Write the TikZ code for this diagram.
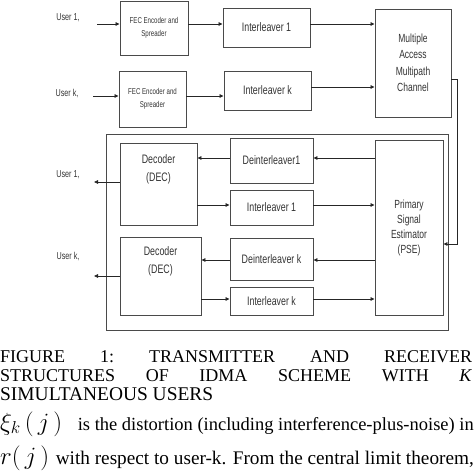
\documentclass[tikz,border=0pt]{standalone}
\usepackage{fontspec}
\usepackage{graphicx}
\setmainfont{Liberation Serif}
\newfontfamily\diag[FakeStretch=0.72]{Liberation Sans}
\usetikzlibrary{arrows.meta}
\definecolor{boxline}{HTML}{4A4A4A}
\definecolor{txt}{HTML}{333333}
\tikzset{
  box/.style={draw=boxline, line width=0.9pt, inner sep=0pt, align=center, text=txt,
    font=\diag\fontsize{12.3}{16}\selectfont},
  fecbox/.style={box, font=\diag\fontsize{8.5}{12.5}\selectfont},
  macbox/.style={box, font=\diag\fontsize{11.8}{16.5}\selectfont},
  dectxt/.style={inner sep=0pt, align=center, text=txt, anchor=north,
    font=\diag\fontsize{12.3}{18}\selectfont},
  userlbl/.style={text=txt, inner sep=0pt, font=\diag\fontsize{10}{12}\selectfont},
  arr/.style={draw=black!85, line width=0.8pt, -{Triangle[length=4pt,width=3.6pt]}},
  capline/.style={anchor=base west, inner sep=0pt, font=\fontsize{18}{18}\selectfont},
  bodyline/.style={anchor=base east, inner sep=0pt, font=\fontsize{18.5}{18.5}\selectfont},
  mathline/.style={anchor=base west, inner sep=0pt, font=\fontsize{23}{23}\selectfont},
}
\begin{document}
\begin{tikzpicture}[x=1pt,y=-1pt]
\useasboundingbox (0,0) rectangle (474,476);
% transmitter
\node[fecbox, minimum width=68pt, minimum height=54pt] (fec1) at (154,28) {FEC Encoder and\\Spreader};
\node[fecbox, minimum width=67pt, minimum height=56pt] (fec2) at (152.5,99) {FEC Encoder and\\Spreader};
\node[box, minimum width=87pt, minimum height=39pt] (int1t) at (266.5,27.5) {Interleaver 1};
\node[box, minimum width=87pt, minimum height=39pt] (intkt) at (267.5,90.5) {Interleaver k};
\node[macbox, minimum width=76pt, minimum height=108pt] (mac) at (413,63) {Multiple\\Access\\Multipath\\Channel};
\node[userlbl] (u1in) at (68,18) {User 1,};
\node[userlbl] (ukin) at (67,94) {User k,};
\coordinate (s1) at (97,24);
\coordinate (sk) at (93,96);
% receiver
\node[draw=boxline, line width=0.9pt, minimum width=342pt, minimum height=196pt, inner sep=0pt] (rx) at (277,232) {};
\node[box, minimum width=77pt, minimum height=82pt] (dec1) at (158.5,184) {};
\node[dectxt] (dec1t) at (158.5,154) {Decoder\\(DEC)};
\node[box, minimum width=81pt, minimum height=78pt] (deck) at (160.5,276) {};
\node[dectxt] (deckt) at (160.5,246) {Decoder\\(DEC)};
\node[box, minimum width=83pt, minimum height=45pt] (deint1) at (271.5,160.5) {Deinterleaver1};
\node[box, minimum width=83pt, minimum height=35pt] (int1b) at (271.5,207.5) {Interleaver 1};
\node[box, minimum width=83pt, minimum height=42pt] (deintk) at (271.5,259) {Deinterleaver k};
\node[box, minimum width=83pt, minimum height=28pt] (intkb) at (271.5,301) {Interleaver k};
\node[macbox, minimum width=68pt, minimum height=175pt, font=\diag\fontsize{11.8}{15}\selectfont] (pse) at (409,227.5) {Primary\\Signal\\Estimator\\(PSE)};
\node[userlbl] (u1out) at (68,175) {User 1,};
\node[userlbl] (ukout) at (68,257) {User k,};
\coordinate (o1) at (94,182);
\coordinate (ok) at (94,276);
\coordinate (bend) at (457,79);
% connectors
\draw[arr] (s1) -- (fec1.west |- s1);
\draw[arr] (fec1.east |- s1) -- (int1t.west |- s1);
\draw[arr] (int1t.east |- s1) -- (mac.west |- s1);
\draw[arr] (sk) -- (fec2.west |- sk);
\draw[arr] (fec2.east |- sk) -- (intkt.west |- sk);
\draw[arr] (intkt.east |- 0,87) -- (mac.west |- 0,87);
\draw[arr] (mac.east |- bend) -- (bend) |- (pse.east |- 0,244);
\draw[arr] (pse.west |- 0,158) -- (deint1.east |- 0,158);
\draw[arr] (deint1.west |- 0,158) -- (dec1.east |- 0,158);
\draw[arr] (dec1.east |- 0,205) -- (int1b.west |- 0,205);
\draw[arr] (int1b.east |- 0,205) -- (pse.west |- 0,205);
\draw[arr] (pse.west |- 0,260) -- (deintk.east |- 0,260);
\draw[arr] (deintk.west |- 0,260) -- (deck.east |- 0,260);
\draw[arr] (deck.east |- 0,299) -- (intkb.west |- 0,299);
\draw[arr] (intkb.east |- 0,299) -- (pse.west |- 0,299);
\draw[arr] (dec1.west |- o1) -- (o1);
\draw[arr] (deck.west |- ok) -- (ok);
% caption and text
\node[capline] (c1) at (0,362) {\hbox to 472pt{FIGURE\hfill 1:\hfill TRANSMITTER\hfill AND\hfill RECEIVER}};
\node[capline] (c2) at (0,381) {\hbox to 472pt{STRUCTURES\hfill OF\hfill IDMA\hfill SCHEME\hfill WITH\hfill \textit{K}}};
\node[capline] (c3) at (0,400) {\resizebox{213pt}{!}{SIMULTANEOUS USERS}};
\node[mathline] (m1) at (0,430) {$\xi_k\,(\,j\,)$};
\node[bodyline] (b1) at (474,430) {\resizebox{396pt}{!}{is the distortion (including interference-plus-noise) in}};
\node[mathline] (m2) at (0,464) {$r(\,j\,)$};
\node[bodyline] (b2) at (474,464) {\resizebox{418pt}{!}{with respect to user-k. From the central limit theorem,}};
\end{tikzpicture}
\end{document}
